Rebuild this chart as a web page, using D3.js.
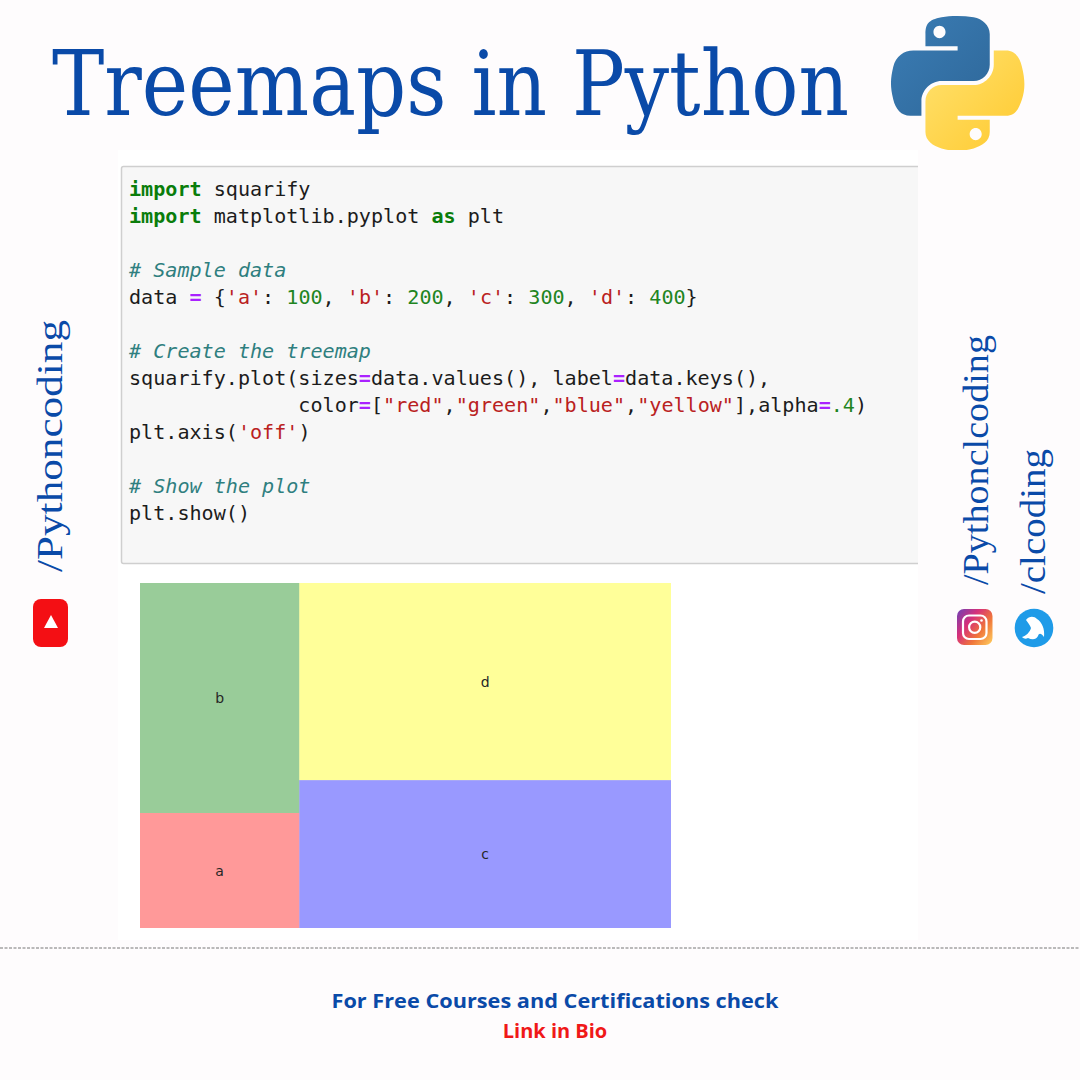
<!DOCTYPE html>
<html><head><meta charset="utf-8">
<script src="https://d3js.org/d3.v7.min.js"></script>
<style>html,body{margin:0;padding:0;background:#fefcfd}svg{display:block}text{white-space:pre}</style>
</head><body><div id="c"></div>
<script>
const titleText = "Treemaps in Python";
const categories = ["a","b","c","d"];
const sizes = [100,200,300,400];
const colors = ["red","green","blue","yellow"];
const columns = [["b","a"],["d","c"]];
const footer = ["For Free Courses and Certifications check","Link in Bio"];
const codeLines = [
 [["import","k"],[" squarify","n"]],
 [["import","k"],[" matplotlib.pyplot ","n"],["as","k"],[" plt","n"]],
 [],
 [["# Sample data","c"]],
 [["data ","n"],["=","o"],[" {","n"],["'a'","s"],[": ","n"],["100","d"],[", ","n"],["'b'","s"],[": ","n"],["200","d"],[", ","n"],["'c'","s"],[": ","n"],["300","d"],[", ","n"],["'d'","s"],[": ","n"],["400","d"],["}","n"]],
 [],
 [["# Create the treemap","c"]],
 [["squarify.plot(sizes","n"],["=","o"],["data.values(), label","n"],["=","o"],["data.keys(),","n"]],
 [["              color","n"],["=","o"],["[","n"],["\"red\"","s"],[",","n"],["\"green\"","s"],[",","n"],["\"blue\"","s"],[",","n"],["\"yellow\"","s"],["],alpha","n"],["=","o"],[".4","d"],[")","n"]],
 [["plt.axis(","n"],["'off'","s"],[")","n"]],
 [],
 [["# Show the plot","c"]],
 [["plt.show()","n"]]
];
const tokenStyle = {
 k:{fill:"#0a7d0a",weight:700,style:"normal"},
 n:{fill:"#1c1c1c",weight:400,style:"normal"},
 o:{fill:"#aa22ff",weight:700,style:"normal"},
 c:{fill:"#2f7f7f",weight:400,style:"italic"},
 s:{fill:"#ba2121",weight:400,style:"normal"},
 d:{fill:"#1f851f",weight:400,style:"normal"}
};
const pyBlue="M54.919 0c-4.584.022-8.961.413-12.812 1.095C30.76 3.099 28.7 7.295 28.7 15.032v10.219h26.813v3.406H18.638c-7.793 0-14.616 4.684-16.75 13.594-2.462 10.213-2.571 16.586 0 27.25 1.906 7.938 6.458 13.594 14.25 13.594h9.219v-12.25c0-8.85 7.657-16.656 16.75-16.656h26.781c7.455 0 13.406-6.138 13.406-13.625v-25.531c0-7.266-6.13-12.725-13.406-13.937C64.282.328 59.502-.02 54.918 0zm-14.5 8.219c2.77 0 5.031 2.299 5.031 5.125 0 2.816-2.262 5.094-5.031 5.094-2.78 0-5.031-2.278-5.031-5.094 0-2.826 2.252-5.125 5.031-5.125z";
const pyYellow="M85.638 28.657v11.906c0 9.231-7.826 17-16.75 17H42.107c-7.336 0-13.406 6.278-13.406 13.625v25.531c0 7.266 6.319 11.54 13.406 13.625 8.488 2.496 16.627 2.947 26.781 0 6.75-1.954 13.406-5.888 13.406-13.625V86.501H55.513v-3.405H95.7c7.793 0 10.696-5.436 13.406-13.594 2.8-8.399 2.68-16.476 0-27.25-1.926-7.757-5.604-13.594-13.406-13.594zM70.575 93.313c2.78 0 5.031 2.278 5.031 5.094 0 2.826-2.252 5.125-5.031 5.125-2.77 0-5.031-2.299-5.031-5.125 0-2.816 2.262-5.094 5.031-5.094z";

const svg=d3.select("#c").append("svg").attr("width",1080).attr("height",1080);
const defs=svg.append("defs");
function grad(id,a,b,x1,y1,x2,y2){const g=defs.append("linearGradient").attr("id",id).attr("x1",x1).attr("y1",y1).attr("x2",x2).attr("y2",y2);
 a.forEach((c,i)=>g.append("stop").attr("offset",i/(a.length-1)).attr("stop-color",c));}
grad("gb",["#3f7fb5","#2f6aa0"],0,0,0,1,1);
defs.select("#gb").selectAll("stop").remove();
[["0","#3b7db5"],["1","#2e6799"]].forEach(s=>defs.select("#gb").append("stop").attr("offset",s[0]).attr("stop-color",s[1]));
grad("gy",["#ffe270","#ffc92e"],0,0,0,1,1);
grad("ig",["#7a3fb0","#d6307a","#f0763a","#fdc55a"],0,0,0.1,1,0.9);

svg.append("rect").attr("width",1080).attr("height",1080).attr("fill","#fefcfd");
svg.append("rect").attr("x",118).attr("y",150).attr("width",800).attr("height",790).attr("fill","#ffffff");

// title
svg.append("text").attr("x",52).attr("y",115).attr("font-family","'DejaVu Serif'")
 .attr("font-size",89).attr("fill","#0a4aa8").attr("textLength",797).attr("lengthAdjust","spacingAndGlyphs").text(titleText);

// logo
const logo=svg.append("g").attr("transform","translate(891,16) scale(1.2)");
logo.append("path").attr("d",pyBlue).attr("fill","url(#gb)");
logo.append("path").attr("d",pyYellow).attr("fill","url(#gy)");

// code cell
svg.append("rect").attr("x",121.5).attr("y",166.5).attr("width",830).attr("height",397).attr("rx",2)
 .attr("fill","#f7f7f7").attr("stroke","#cfcfcf").attr("stroke-width",1.5);
svg.append("rect").attr("x",918).attr("y",150).attr("width",162).attr("height",790).attr("fill","#fefcfd");

const code=svg.append("g").attr("font-family","'DejaVu Sans Mono'").attr("font-size",20.1);
const lineY=d3.scaleLinear().domain([0,1]).range([196,223]);
codeLines.forEach((ln,i)=>{
 const t=code.append("text").attr("x",129).attr("y",lineY(i)).attr("xml:space","preserve");
 t.selectAll("tspan").data(ln).join("tspan").text(d=>d[0])
  .attr("fill",d=>tokenStyle[d[1]].fill).attr("font-weight",d=>tokenStyle[d[1]].weight).attr("font-style",d=>tokenStyle[d[1]].style);
});

// treemap
const valueOf=k=>sizes[categories.indexOf(k)];
const root=d3.hierarchy({children:columns.map(c=>({children:c.map(k=>({name:k,value:valueOf(k)}))}))}).sum(d=>d.value||0);
d3.treemap().size([531,345]).tile((n,x0,y0,x1,y1)=>(n.depth===0?d3.treemapDice:d3.treemapSlice)(n,x0,y0,x1,y1))(root);
const tm=svg.append("g").attr("transform","translate(140,583)");
const leaf=tm.selectAll("g").data(root.leaves()).join("g");
leaf.append("rect").attr("x",d=>d.x0).attr("y",d=>d.y0).attr("width",d=>d.x1-d.x0).attr("height",d=>d.y1-d.y0)
 .attr("fill",d=>colors[categories.indexOf(d.data.name)]).attr("fill-opacity",0.4);
leaf.append("text").attr("x",d=>(d.x0+d.x1)/2).attr("y",d=>(d.y0+d.y1)/2+5).attr("text-anchor","middle")
 .attr("font-family","'DejaVu Sans'").attr("font-size",14).attr("fill","#262626").text(d=>d.data.name);

// handles
function vtext(x,y,s,len){svg.append("text").attr("transform",`translate(${x},${y}) rotate(-90)`)
 .attr("font-family","'Liberation Serif'").attr("font-size",36).attr("fill","#0a4aa8")
 .attr("textLength",len).attr("lengthAdjust","spacingAndGlyphs").text(s);}
vtext(62,572,"/Pythoncoding",252);
vtext(988,585,"/Pythonclcoding",250);
vtext(1045,594,"/clcoding",145);

// youtube
svg.append("rect").attr("x",33).attr("y",599).attr("width",35).attr("height",48).attr("rx",8).attr("fill","#f40f14");
svg.append("path").attr("d",d3.line()([[51,615],[58,628],[44,628]])+"Z").attr("fill","#fff");

// instagram
svg.append("rect").attr("x",957).attr("y",609).attr("width",35.5).attr("height",36).attr("rx",7).attr("fill","url(#ig)");
svg.append("rect").attr("x",963).attr("y",615.5).attr("width",23.5).attr("height",23.5).attr("rx",6).attr("fill","none").attr("stroke","#fff").attr("stroke-width",2.2);
svg.append("circle").attr("cx",974.7).attr("cy",627.3).attr("r",5.6).attr("fill","none").attr("stroke","#fff").attr("stroke-width",2.2);
svg.append("circle").attr("cx",981.5).attr("cy",620.5).attr("r",1.3).attr("fill","#fff");

// bird badge
svg.append("circle").attr("cx",1034).attr("cy",628).attr("r",19.3).attr("fill","#1f9be8");
svg.append("path").attr("d","M1026 620 C1029 616 1034 616 1037 619 C1042 622 1045 629 1044 637 C1041 633 1039 633 1038 636 C1036 640 1032 640 1028 638 C1026 639 1024 639 1022 637 C1026 636 1030 632 1031 628 C1030 625 1028 623 1026 620 Z").attr("fill","#fff");

// divider + footer
svg.append("line").attr("x1",0).attr("x2",1080).attr("y1",948).attr("y2",948).attr("stroke","#777").attr("stroke-width",1).attr("stroke-dasharray","3 1.5");
svg.append("text").attr("x",555).attr("y",1008).attr("text-anchor","middle").attr("font-family","'Open Sans'").attr("font-weight",700).attr("font-size",20).attr("fill","#0a4aa8").attr("textLength",447).attr("lengthAdjust","spacingAndGlyphs").text(footer[0]);
svg.append("text").attr("x",555).attr("y",1038).attr("text-anchor","middle").attr("font-family","'Open Sans'").attr("font-weight",700).attr("font-size",20).attr("fill","#f01818").text(footer[1]);
</script></body></html>
